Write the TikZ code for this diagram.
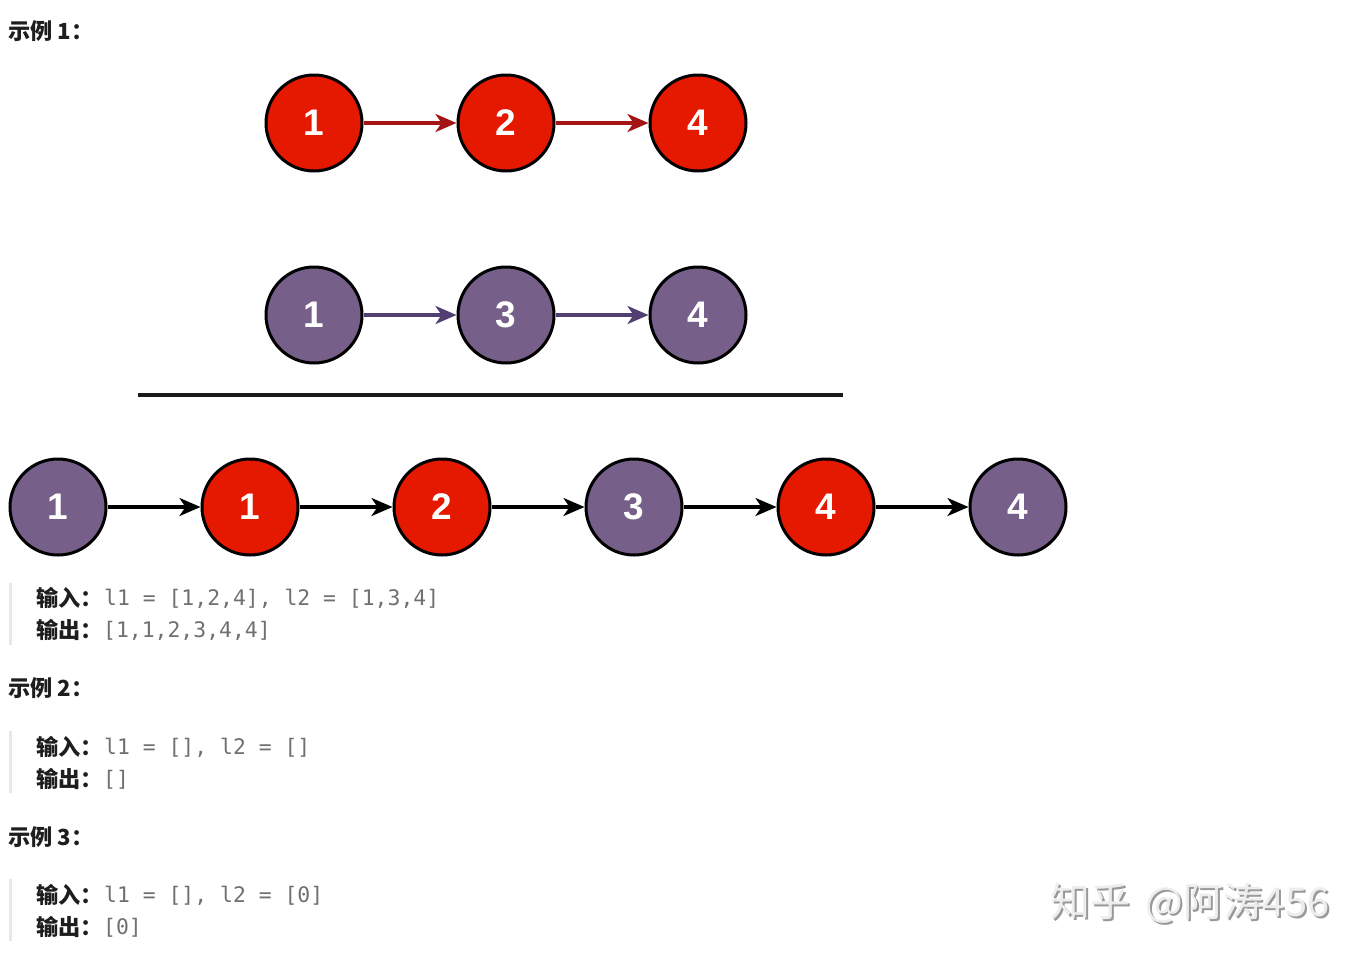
\documentclass[tikz,border=0pt]{standalone}
\usepackage{fontspec}
\setmainfont{Noto Sans}
\setmonofont{DejaVu Sans Mono}
\newfontfamily\cjkb[BoldFont={Noto Sans CJK SC Black}]{Noto Sans CJK SC}
\newfontfamily\numfont{Liberation Sans}
\usetikzlibrary{arrows.meta}
\definecolor{redfill}{RGB}{229,25,0}
\definecolor{purplefill}{RGB}{118,96,138}
\definecolor{redline}{RGB}{165,20,20}
\definecolor{purpleline}{RGB}{82,62,112}
\definecolor{codegray}{RGB}{112,112,112}
\definecolor{darktext}{RGB}{30,30,30}
\definecolor{barcol}{RGB}{232,232,232}
\tikzset{
  x=1pt,y=-1pt,
  listnode/.style={circle,draw=black,line width=3pt,minimum size=96pt,inner sep=0pt,text=white,font=\numfont\bfseries\fontsize{37}{37}\selectfont},
  rednode/.style={listnode,fill=redfill},
  purplenode/.style={listnode,fill=purplefill},
  link/.style={line width=3.2pt,-{Stealth[length=21pt,width=18pt,inset=6pt]}},
  redlink/.style={link,draw=redline},
  purplelink/.style={link,draw=purpleline},
  blacklink/.style={link,draw=black},
  heading/.style={anchor=base west,inner sep=0pt,text=darktext,font=\cjkb\bfseries\fontsize{22.2}{24}\selectfont},
  labeltext/.style={anchor=base west,inner sep=0pt,text=darktext,font=\cjkb\bfseries\fontsize{22.2}{24}\selectfont},
  codetext/.style={anchor=base west,inner sep=0pt,text=codegray,font=\ttfamily\fontsize{21.4}{24}\selectfont},
  quotebar/.style={fill=barcol,draw=none},
  wmark/.style={anchor=base west,inner sep=0pt,font=\cjkb\fontsize{39.8}{42}\selectfont}
}
\begin{document}
\begin{tikzpicture}
\useasboundingbox[fill=white] (0,0) rectangle (1364,959);
% list 1
\node[rednode] (a1) at (314,123) {1};
\node[rednode] (a2) at (506,123) {2};
\node[rednode] (a3) at (698,123) {4};
\draw[redlink] (a1) -- (a2);
\draw[redlink] (a2) -- (a3);
% list 2
\node[purplenode] (b1) at (314,315) {1};
\node[purplenode] (b2) at (506,315) {3};
\node[purplenode] (b3) at (698,315) {4};
\draw[purplelink] (b1) -- (b2);
\draw[purplelink] (b2) -- (b3);
% rule
\coordinate (r1) at (138,395);
\coordinate (r2) at (843,395);
\draw[line width=3.2pt,draw=black!90] (r1) -- (r2);
% merged list
\node[purplenode] (c1) at (58,507) {1};
\node[rednode] (c2) at (250,507) {1};
\node[rednode] (c3) at (442,507) {2};
\node[purplenode] (c4) at (634,507) {3};
\node[rednode] (c5) at (826,507) {4};
\node[purplenode] (c6) at (1018,507) {4};
\foreach \p/\q in {c1/c2,c2/c3,c3/c4,c4/c5,c5/c6} \draw[blacklink] (\p) -- (\q);
% text
\node[heading] (h1) at (8,39) {示例 1：};
\node[quotebar,minimum width=3pt,minimum height=62pt,inner sep=0pt] (q1) at (10,614) {};
\node[labeltext] (i1) at (36,606) {输入：};
\node[codetext] (ic1) at (104,605.6) {l1 = [1,2,4], l2 = [1,3,4]};
\node[labeltext] (o1) at (36,638) {输出：};
\node[codetext] (oc1) at (103,637.6) {[1,1,2,3,4,4]};
\node[heading] (h2) at (8,696) {示例 2：};
\node[quotebar,minimum width=3pt,minimum height=62pt,inner sep=0pt] (q2) at (10,762) {};
\node[labeltext] (i2) at (36,755) {输入：};
\node[codetext] (ic2) at (104,754.6) {l1 = [], l2 = []};
\node[labeltext] (o2) at (36,787) {输出：};
\node[codetext] (oc2) at (103,786.6) {[]};
\node[heading] (h3) at (8,845) {示例 3：};
\node[quotebar,minimum width=3pt,minimum height=62pt,inner sep=0pt] (q3) at (10,910) {};
\node[labeltext] (i3) at (36,903) {输入：};
\node[codetext] (ic3) at (104,902.6) {l1 = [], l2 = [0]};
\node[labeltext] (o3) at (36,935) {输出：};
\node[codetext] (oc3) at (103,934.6) {[0]};
% watermark
\node[wmark,text=black!40] (w0) at (1052,918) {知乎\hspace{7pt} @阿涛456};
\node[wmark,text=white!93!black] (w1) at (1050,916) {知乎\hspace{7pt} @阿涛456};
\end{tikzpicture}
\end{document}
